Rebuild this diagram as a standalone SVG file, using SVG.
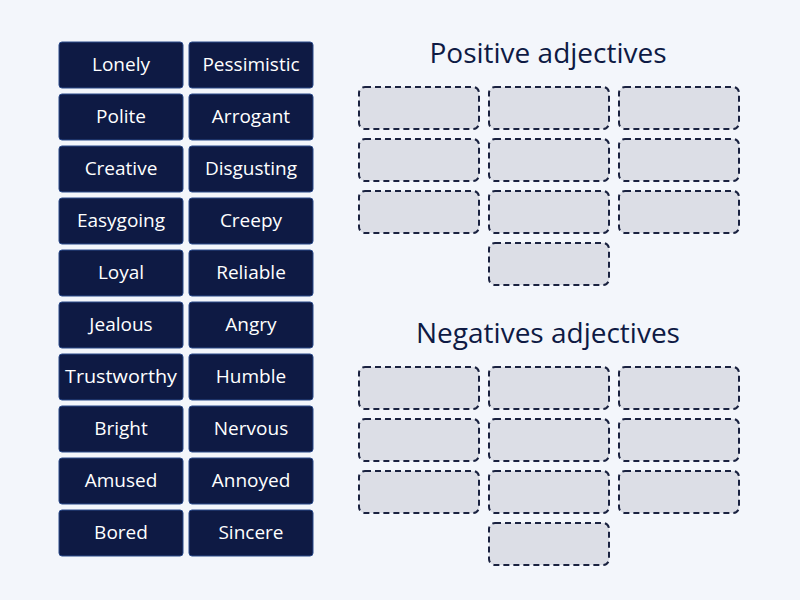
<svg xmlns="http://www.w3.org/2000/svg" width="800" height="600" viewBox="0 0 800 600">
<style>
.t rect{fill:#0e1a44;stroke:#2a4a8a;stroke-width:1}
.t text{fill:#fff;font-family:"Open Sans","Liberation Sans",sans-serif;font-size:19px;text-anchor:middle}
.s{fill:#dcdee6;stroke:#1a2240;stroke-width:2;stroke-dasharray:6,4}
.h{fill:#0e1a44;font-family:"Open Sans","Liberation Sans",sans-serif;font-size:28px;text-anchor:middle}
</style>
<rect width="800" height="600" fill="#f3f6fb"/>
<g id="tiles" class="t">
<g id="n1"><rect x="59" y="42" width="124" height="46" rx="3"/><text x="121" y="71">Lonely</text></g>
<g id="n2"><rect x="189" y="42" width="124" height="46" rx="3"/><text x="251" y="71">Pessimistic</text></g>
<g id="n3"><rect x="59" y="94" width="124" height="46" rx="3"/><text x="121" y="123">Polite</text></g>
<g id="n4"><rect x="189" y="94" width="124" height="46" rx="3"/><text x="251" y="123">Arrogant</text></g>
<g id="n5"><rect x="59" y="146" width="124" height="46" rx="3"/><text x="121" y="175">Creative</text></g>
<g id="n6"><rect x="189" y="146" width="124" height="46" rx="3"/><text x="251" y="175">Disgusting</text></g>
<g id="n7"><rect x="59" y="198" width="124" height="46" rx="3"/><text x="121" y="227">Easygoing</text></g>
<g id="n8"><rect x="189" y="198" width="124" height="46" rx="3"/><text x="251" y="227">Creepy</text></g>
<g id="n9"><rect x="59" y="250" width="124" height="46" rx="3"/><text x="121" y="279">Loyal</text></g>
<g id="n10"><rect x="189" y="250" width="124" height="46" rx="3"/><text x="251" y="279">Reliable</text></g>
<g id="n11"><rect x="59" y="302" width="124" height="46" rx="3"/><text x="121" y="331">Jealous</text></g>
<g id="n12"><rect x="189" y="302" width="124" height="46" rx="3"/><text x="251" y="331">Angry</text></g>
<g id="n13"><rect x="59" y="354" width="124" height="46" rx="3"/><text x="121" y="383" textLength="112" lengthAdjust="spacingAndGlyphs">Trustworthy</text></g>
<g id="n14"><rect x="189" y="354" width="124" height="46" rx="3"/><text x="251" y="383">Humble</text></g>
<g id="n15"><rect x="59" y="406" width="124" height="46" rx="3"/><text x="121" y="435">Bright</text></g>
<g id="n16"><rect x="189" y="406" width="124" height="46" rx="3"/><text x="251" y="435">Nervous</text></g>
<g id="n17"><rect x="59" y="458" width="124" height="46" rx="3"/><text x="121" y="487">Amused</text></g>
<g id="n18"><rect x="189" y="458" width="124" height="46" rx="3"/><text x="251" y="487">Annoyed</text></g>
<g id="n19"><rect x="59" y="510" width="124" height="46" rx="3"/><text x="121" y="539">Bored</text></g>
<g id="n20"><rect x="189" y="510" width="124" height="46" rx="3"/><text x="251" y="539">Sincere</text></g>
</g>
<text class="h" x="548" y="63">Positive adjectives</text>
<text class="h" x="548" y="343">Negatives adjectives</text>
<g id="positive">
<rect class="s" x="359" y="87" width="120" height="42" rx="6"/><rect class="s" x="489" y="87" width="120" height="42" rx="6"/><rect class="s" x="619" y="87" width="120" height="42" rx="6"/>
<rect class="s" x="359" y="139" width="120" height="42" rx="6"/><rect class="s" x="489" y="139" width="120" height="42" rx="6"/><rect class="s" x="619" y="139" width="120" height="42" rx="6"/>
<rect class="s" x="359" y="191" width="120" height="42" rx="6"/><rect class="s" x="489" y="191" width="120" height="42" rx="6"/><rect class="s" x="619" y="191" width="120" height="42" rx="6"/>
<rect class="s" x="489" y="243" width="120" height="42" rx="6"/>
</g>
<g id="negative">
<rect class="s" x="359" y="367" width="120" height="42" rx="6"/><rect class="s" x="489" y="367" width="120" height="42" rx="6"/><rect class="s" x="619" y="367" width="120" height="42" rx="6"/>
<rect class="s" x="359" y="419" width="120" height="42" rx="6"/><rect class="s" x="489" y="419" width="120" height="42" rx="6"/><rect class="s" x="619" y="419" width="120" height="42" rx="6"/>
<rect class="s" x="359" y="471" width="120" height="42" rx="6"/><rect class="s" x="489" y="471" width="120" height="42" rx="6"/><rect class="s" x="619" y="471" width="120" height="42" rx="6"/>
<rect class="s" x="489" y="523" width="120" height="42" rx="6"/>
</g>
<g id="connectors"/>
</svg>
